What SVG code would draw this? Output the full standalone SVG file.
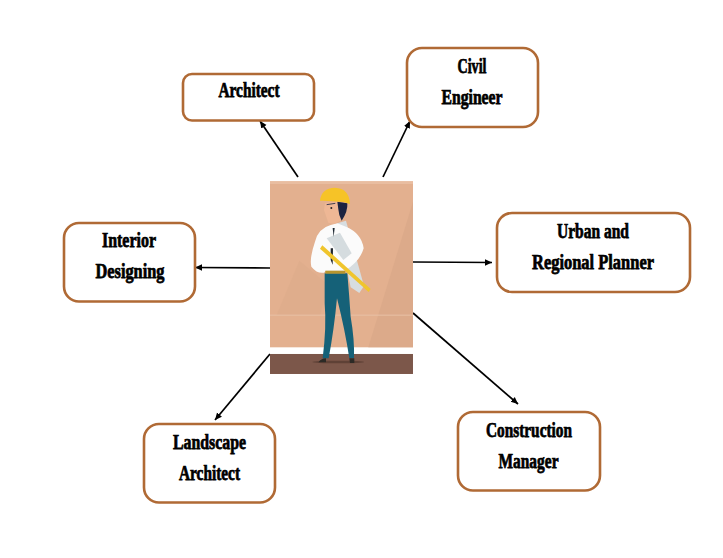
<svg xmlns="http://www.w3.org/2000/svg" width="723" height="558" viewBox="0 0 723 558">
  <style>
    .box { fill: #fff; stroke: #b06a35; stroke-width: 2.6; }
    .lbl { font-family: "Liberation Serif", serif; font-weight: 700; font-size: 21px; fill: #000; stroke: #000; stroke-width: 0.75; text-anchor: middle; }
    .link { stroke: #000; stroke-width: 1.7; fill: none; marker-end: url(#tip); }
  </style>
  <defs>
    <marker id="tip" markerUnits="userSpaceOnUse" markerWidth="8" markerHeight="8" refX="7" refY="4" orient="auto">
      <path d="M0 0.800L7 4L0 7.200z" fill="#000"/>
    </marker>
  </defs>
  <rect width="723" height="558" fill="#fff"/>

  <g id="connectors">
    <line class="link" x1="298" y1="177" x2="260" y2="121"/>
    <line class="link" x1="383" y1="177" x2="410" y2="121"/>
    <line class="link" x1="270" y1="268" x2="195" y2="267.500"/>
    <line class="link" x1="413" y1="262" x2="492" y2="262.500"/>
    <line class="link" x1="270" y1="354" x2="215" y2="420"/>
    <line class="link" x1="413" y1="313" x2="518" y2="404"/>
  </g>

  <!-- central engineer illustration, drawn at 3x and scaled down -->
  <g id="engineer" transform="translate(260 170) scale(0.3333)">
    <rect x="30" y="34" width="429" height="498" fill="#e3b08f"/>
    <rect x="30" y="34" width="429" height="8" fill="#e9bda0"/>
    <rect x="30" y="552" width="429" height="60" fill="#7c574a"/>
    <path d="M459 95V532H325z" fill="#dcaa8a"/>
    <path d="M50 435L118 272L205 345L180 435z" fill="#dfad8c"/>
    <rect x="30" y="434" width="429" height="3" fill="#e9c0a5"/>
    <ellipse cx="235" cy="576" rx="78" ry="4" fill="#5f4136"/>
    <!-- rolled plans behind the arm -->
    <path d="M232 160L258 152L312 348L298 369L272 352z" fill="#d7dde0"/>
    <!-- trousers and shoes -->
    <path d="M194 310H262Q268 380 272 440Q284 510 282 565H268Q255 480 231 385Q222 480 206 565H188Q200 470 194 400z" fill="#156178"/>
    <path d="M176 577Q182 566 198 565V577zM268 565H283V579H270z" fill="#2c2a26"/>
    <!-- shirt -->
    <path d="M212 165Q175 175 165 215Q148 265 154 290Q172 312 192 308L196 304H252Q300 275 311 235Q305 190 258 170L232 160z" fill="#fbfbfb"/>
    <path d="M200 205L240 188L275 250L250 270z" fill="#d5dcdf"/>
    <path d="M218 174L224 174L221 200z" fill="#1f2a33"/>
    <path d="M212 235L219 235L218 284L212 270z" fill="#20262b"/>
    <rect x="196" y="302" width="60" height="9" fill="#b7952e"/>
    <!-- ruler -->
    <path d="M187 226L332 357L326 366L180 236z" fill="#f0c52c"/>
    <!-- head, hair, helmet -->
    <path d="M195 100L240 92L245 150L222 162L205 158L192 120z" fill="#eeb795"/>
    <path d="M232 95L262 100Q264 125 245 152Q236 135 235 118z" fill="#1c2440"/>
    <path d="M180 92Q184 54 225 53Q268 55 270 102L250 96L190 92z" fill="#f6c327"/>
    <path d="M200 104L226 100" stroke="#1c2440" stroke-width="2.500" fill="none"/>
    <circle cx="214" cy="114" r="3" fill="#222"/>
  </g>

  <g id="node-architect">
    <rect class="box" x="183" y="74" width="131" height="46.500" rx="9"/>
    <text class="lbl" x="249" y="97" textLength="61" lengthAdjust="spacingAndGlyphs">Architect</text>
  </g>
  <g id="node-civil-engineer">
    <rect class="box" x="407" y="48" width="131" height="79" rx="15"/>
    <text class="lbl" x="472" y="73" textLength="29" lengthAdjust="spacingAndGlyphs">Civil</text>
    <text class="lbl" x="472" y="104" textLength="61" lengthAdjust="spacingAndGlyphs">Engineer</text>
  </g>
  <g id="node-interior">
    <rect class="box" x="64" y="223" width="131" height="78.500" rx="15"/>
    <text class="lbl" x="129" y="247" textLength="54" lengthAdjust="spacingAndGlyphs">Interior</text>
    <text class="lbl" x="130" y="278" textLength="69" lengthAdjust="spacingAndGlyphs">Designing</text>
  </g>
  <g id="node-urban">
    <rect class="box" x="497" y="213" width="193" height="79" rx="15"/>
    <text class="lbl" x="593" y="238" textLength="72" lengthAdjust="spacingAndGlyphs">Urban and</text>
    <text class="lbl" x="593" y="269" textLength="122" lengthAdjust="spacingAndGlyphs">Regional Planner</text>
  </g>
  <g id="node-landscape">
    <rect class="box" x="144" y="424" width="131" height="78.500" rx="15"/>
    <text class="lbl" x="209.500" y="449" textLength="73" lengthAdjust="spacingAndGlyphs">Landscape</text>
    <text class="lbl" x="209.500" y="480" textLength="61" lengthAdjust="spacingAndGlyphs">Architect</text>
  </g>
  <g id="node-construction">
    <rect class="box" x="458" y="412" width="142" height="78.500" rx="15"/>
    <text class="lbl" x="529" y="437" textLength="86" lengthAdjust="spacingAndGlyphs">Construction</text>
    <text class="lbl" x="528.500" y="468" textLength="60" lengthAdjust="spacingAndGlyphs">Manager</text>
  </g>
</svg>
